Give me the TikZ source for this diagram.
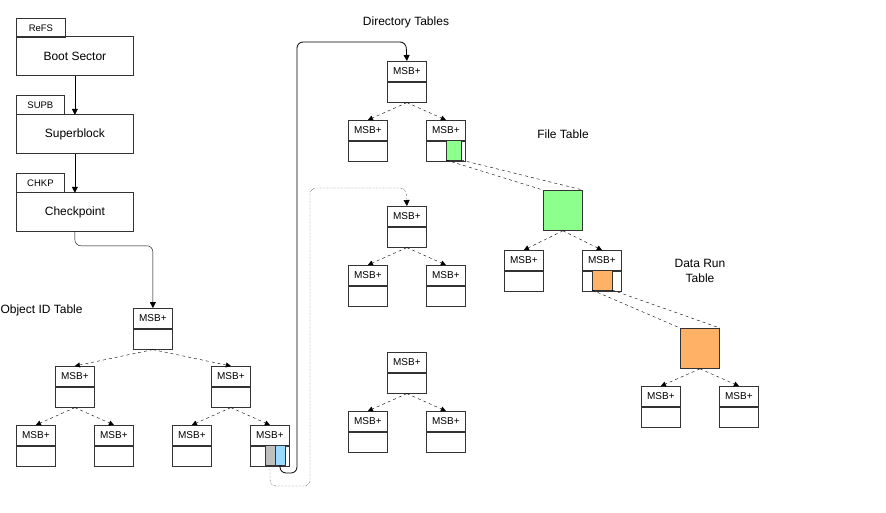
\documentclass[tikz,border=0pt]{standalone}
\usepackage{fontspec}
\setmainfont{Liberation Sans}
\usetikzlibrary{positioning,arrows.meta}

\tikzset{
  top/.style={draw,thick,draw=black!80,minimum width=39pt,minimum height=20pt,inner sep=0pt,font=\fontsize{10}{10}\selectfont},
  bot/.style={draw,thick,draw=black!80,minimum width=39pt,minimum height=20pt,inner sep=0pt},
  hdr/.style={draw,thick,draw=black!80,minimum height=19pt,inner sep=0pt,font=\fontsize{9.5}{9.5}\selectfont,anchor=north west},
  blk/.style={draw,thick,draw=black!80,minimum width=117pt,minimum height=39pt,inner sep=0pt,font=\fontsize{12}{12}\selectfont,anchor=north west},
  sq/.style={draw,thick,draw=black!80,minimum width=39pt,minimum height=40pt,inner sep=0pt,anchor=north west},
  edge/.style={dashed,-{Triangle[length=5pt,width=5pt]}},
  lbl/.style={font=\fontsize{12}{15}\selectfont,align=center}
}
\newcommand{\msb}[2]{%
  \node[top,anchor=north west] (#1) at (#2) {MSB+};
  \node[bot,below=0pt of #1] (#1-lo) {};}

\begin{document}
\begin{tikzpicture}[x=1pt,y=-1pt]
\useasboundingbox (0,0) rectangle (886,512);

% boot chain
\node[hdr,minimum width=49pt] (refs) at (16,18) {ReFS};
\node[blk] (boot) at (16,36) {Boot Sector};
\node[hdr,minimum width=48pt] (supb) at (16,95) {SUPB};
\node[blk] (super) at (16,114) {Superblock};
\node[hdr,minimum width=48pt] (chkp) at (16,173) {CHKP};
\node[blk] (chk) at (16,192) {Checkpoint};
\draw[-{Triangle[length=6pt,width=6pt]}] (boot.south) -- (boot.south |- supb.south);
\draw[-{Triangle[length=6pt,width=6pt]}] (super.south) -- (super.south |- chkp.south);

% object id table
\msb{o}{133,308}
\msb{oa}{55,366}
\msb{ob}{211,366}
\msb{oaa}{16,425}
\msb{oab}{94,425}
\msb{oba}{172,425}
\msb{obb}{250,425}
\node[lbl,anchor=west] (otl) at (-3,310) {Object ID Table};
\draw[-{Triangle[length=6pt,width=6pt]},rounded corners=6pt] (chk.south) -- ++(0,14) -| (o.north);
\foreach \p/\c in {o/oa,o/ob,oa/oaa,oa/oab,ob/oba,ob/obb}
  \draw[edge] (\p-lo.south) -- (\c.north);

% cells in the last leaf
\fill[black!25,draw=black!80] (265,445) rectangle (275,465);
\fill[blue!35!cyan!40,draw=black!80] (275,445) rectangle (285,465);
\coordinate (gc) at (270,465);
\coordinate (bc) at (280,465);

% directory tables
\msb{d}{387,61}
\msb{da}{348,120}
\msb{db}{426,120}
\msb{e}{387,206}
\msb{ea}{348,265}
\msb{eb}{426,265}
\msb{f}{387,352}
\msb{fa}{348,411}
\msb{fb}{426,411}
\foreach \p/\c in {d/da,d/db,e/ea,e/eb,f/fa,f/fb}
  \draw[edge] (\p-lo.south) -- (\c.north);
\node[lbl] (dtl) at (406,22) {Directory Tables};
\draw[thick,-{Triangle[length=6pt,width=6pt]},rounded corners=6pt] (bc) -- ++(0,8) -- (297,473) -- (297,42) -- (406,42) -- (d.north);
\draw[densely dotted,-{Triangle[length=6pt,width=6pt]},rounded corners=6pt] (gc) -- (270,486) -- (310,486) -- (310,188) -- (406,188) -- (e.north);

% file table
\fill[green!45,draw=black!80] (446,140) rectangle (461,160);
\node[sq,fill=green!45] (ft) at (543,190) {};
\msb{fta}{504,250}
\msb{ftb}{582,250}
\draw[edge] (ft.south) -- (fta.north);
\draw[edge] (ft.south) -- (ftb.north);
\draw[dashed] (446,160) -- (ft.north west);
\draw[dashed] (461,160) -- (ft.north east);
\node[lbl] (ftl) at (563,134) {File Table};

% data run table
\fill[orange!60,draw=black!80] (592,270) rectangle (612,290);
\node[sq,fill=orange!60] (dr) at (680,328) {};
\msb{dra}{641,386}
\msb{drb}{719,386}
\draw[edge] (dr.south) -- (dra.north);
\draw[edge] (dr.south) -- (drb.north);
\draw[dashed] (592,290) -- (dr.north west);
\draw[dashed] (612,290) -- (dr.north east);
\node[lbl] (drl) at (700,271) {Data Run\\Table};
\end{tikzpicture}
\end{document}
